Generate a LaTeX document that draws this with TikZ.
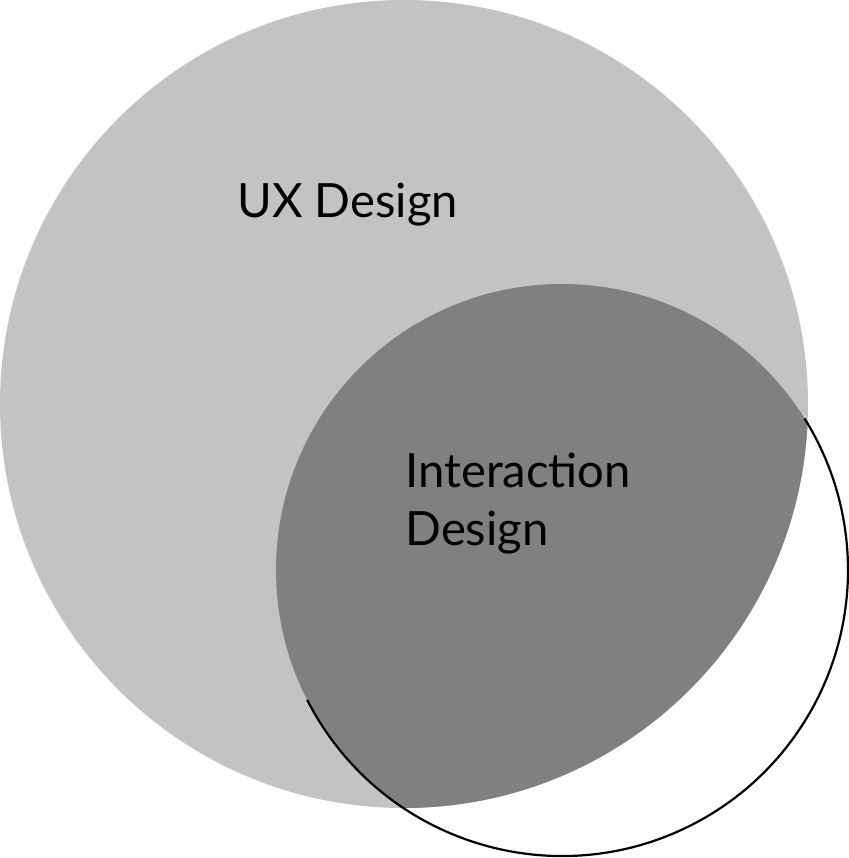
\documentclass[tikz,border=0pt]{standalone}
\usepackage{fontspec}
\setmainfont{Lato}
\definecolor{uxgray}{HTML}{C3C3C3}
\definecolor{ixdgray}{HTML}{808080}
\tikzset{label text/.style={anchor=base west, font=\fontsize{23.6}{29}\selectfont, inner sep=0pt, align=left}}

\begin{document}
\begin{tikzpicture}[x=0.5pt, y=-0.5pt]
			\useasboundingbox (0, 0) rectangle (848, 858);
			\coordinate (uxc) at (404, 404);
			\coordinate (ixdc) at (562, 570);
			\fill[uxgray] (uxc) circle (404);
			\begin{scope}
				\clip (uxc) circle (404);
				\fill[ixdgray] (ixdc) circle (286);
			\end{scope}
			\draw[line width=1.1pt] (ixdc) ++(207:286 and -286) arc[start angle=207, end angle=392, x radius=286, y radius=-286];
			\node[label text] (ux) at (237, 217) {UX Design};
			\node[label text] (ixd) at (405, 545) {Interaction\\Design};
		\end{tikzpicture}
\end{document}
